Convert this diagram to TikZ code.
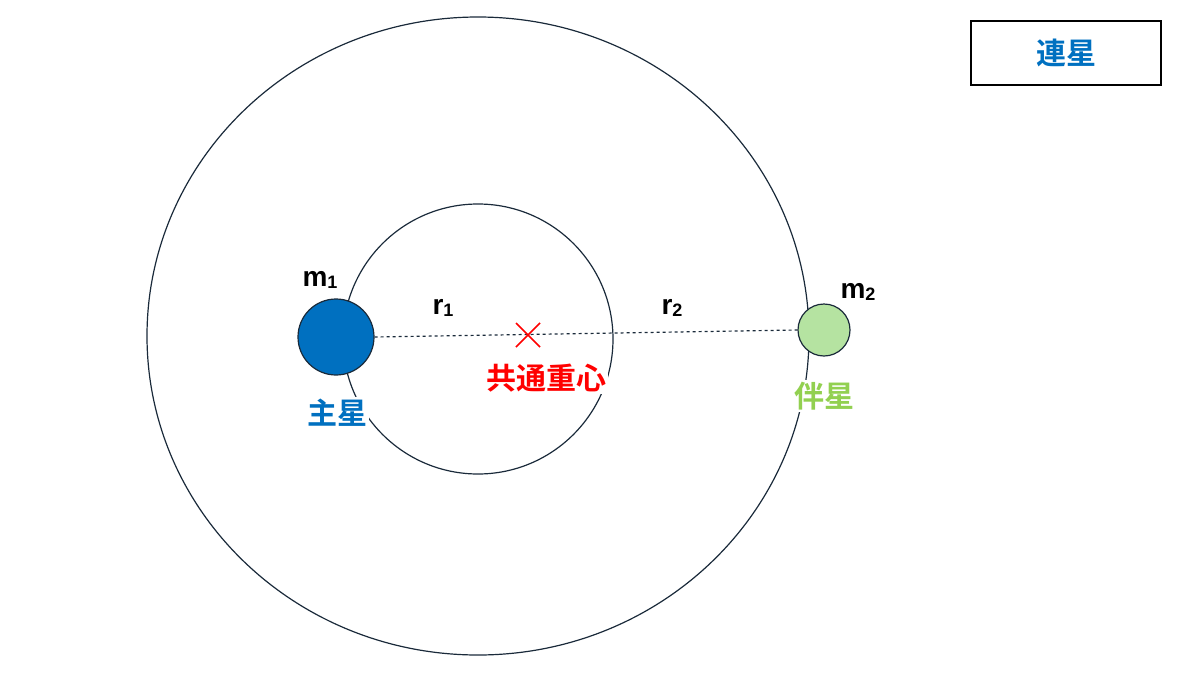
\documentclass[tikz,border=0pt]{standalone}
\usetikzlibrary{calc}
\usepackage{fontspec}
\setmainfont{Liberation Sans}
\newfontfamily\cjk{Noto Sans CJK JP}[BoldFont={* Bold}]
\definecolor{navy}{HTML}{1A2A3A}
\definecolor{mainblue}{HTML}{0070C0}
\definecolor{compgreen}{HTML}{B5E3A1}
\definecolor{labgreen}{HTML}{92D050}
\begin{document}
\begin{tikzpicture}[x=1pt,y=-1pt,
  orbit/.style={draw=navy,line width=1.2pt},
  cjklab/.style={font=\cjk\bfseries\fontsize{30}{32}\selectfont,fill=white,inner sep=2pt},
  mlab/.style={font=\bfseries\fontsize{28}{30}\selectfont,inner sep=0pt}]
\useasboundingbox (0,0) rectangle (1200,675);
\draw[orbit] (478,336) ellipse [x radius=331,y radius=319];
\draw[orbit] (478,339) circle [radius=135];
\node[circle,draw=navy,line width=1.2pt,fill=mainblue,minimum size=76pt,inner sep=0pt] (p) at (336,337) {};
\node[circle,draw=navy,line width=1.2pt,fill=compgreen,minimum size=52pt,inner sep=0pt] (c) at (824,330) {};
\draw[dashed,line width=1.2pt,navy] (p.east) -- (c.west);
\coordinate (cm) at (528,335);
\draw[red,line width=1.6pt] ($(cm)+(-12,-12)$) -- ($(cm)+(12,12)$) ($(cm)+(-12,12)$) -- ($(cm)+(12,-12)$);
\node[cjklab,text=red] (lcm) at (546,378) {共通重心};
\node[cjklab,text=mainblue] (lp) at (337,413) {主星};
\node[cjklab,text=labgreen] (lc) at (824,396) {伴星};
\node[mlab] (m1) at (320,280) {m\raisebox{-2pt}{\fontsize{18}{18}\selectfont 1}};
\node[mlab] (m2) at (858,292) {m\raisebox{-2pt}{\fontsize{18}{18}\selectfont 2}};
\node[mlab] (r1) at (443,308) {r\raisebox{-2pt}{\fontsize{18}{18}\selectfont 1}};
\node[mlab] (r2) at (672,308) {r\raisebox{-2pt}{\fontsize{18}{18}\selectfont 2}};
\node[draw=black,line width=2.5pt,minimum width=190pt,minimum height=64pt,font=\cjk\bfseries\fontsize{30}{32}\selectfont,text=mainblue] (t) at (1066,53) {連星};
\end{tikzpicture}
\end{document}
